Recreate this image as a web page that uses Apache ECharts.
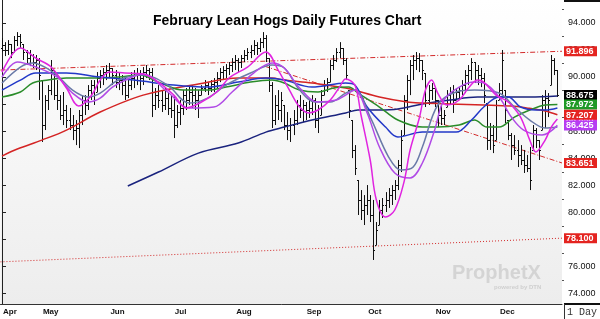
<!DOCTYPE html>
<html><head><meta charset="utf-8">
<script src="https://cdn.jsdelivr.net/npm/echarts@6/dist/echarts.min.js"></script>
<style>html,body{margin:0;padding:0;background:#fff}#c{width:600px;height:319px}</style>
</head><body><div id="c"></div>
<script>
const monthNames = ['Apr','May','Jun','Jul','Aug','Sep','Oct','Nov','Dec'];
const tradingDays = [
 [12,13,14,17,18,19,20,21,24,25,26,27,28],
 [1,2,3,4,5,8,9,10,11,12,15,16,17,18,19,22,23,24,25,26,30,31],
 [1,2,5,6,7,8,9,12,13,14,15,16,20,21,22,23,26,27,28,29,30],
 [3,5,6,7,10,11,12,13,14,17,18,19,20,21,24,25,26,27,28,31],
 [1,2,3,4,7,8,9,10,11,14,15,16,17,18,21,22,23,24,25,28,29,30,31],
 [1,5,6,7,8,11,12,13,14,15,18,19,20,21,22,25,26,27,28,29],
 [2,3,4,5,6,9,10,11,12,13,16,17,18,19,20,23,24,25,26,27,30,31],
 [1,2,3,6,7,8,9,10,13,14,15,16,17,20,21,22,24,27,28,29,30],
 [1,4,5,6,7,8,11,12,13,14,15,18,19,20,21,22,26,27,28,29]
];
const opens = [92.13,92.35,91.99,92.43,91.84,92.72,93.02,92.43,91.84,91.39,
91.62,91.10,91.25,89.77,86.45,88.30,89.03,90.51,88.66,88.30,
87.19,87.56,86.82,86.45,86.08,86.23,87.19,88.30,87.93,89.03,
89.40,88.89,89.92,90.14,90.36,90.51,90.66,90.14,89.62,89.77,
89.40,88.66,89.40,89.92,90.14,89.77,89.92,90.36,90.51,90.36,
87.93,88.66,88.30,87.93,88.44,87.71,87.56,86.45,87.41,87.71,
88.66,88.30,88.89,88.66,88.30,88.66,89.18,89.40,89.18,89.48,
89.62,89.92,90.36,90.51,90.66,90.88,91.10,91.25,91.10,91.39,
91.62,91.84,91.99,92.35,92.13,92.57,92.87,91.39,89.40,86.82,
87.93,87.56,87.93,86.45,86.08,86.45,86.82,87.93,87.56,87.93,
87.56,87.71,88.30,86.82,87.19,88.66,89.40,89.62,90.88,91.25,
91.84,92.13,91.25,89.03,86.82,84.61,82.39,80.92,80.18,80.55,
80.92,79.81,77.59,79.07,80.18,80.55,80.92,81.28,81.65,82.02,
83.50,85.71,88.30,89.77,90.88,91.25,91.39,91.25,90.29,88.30,
89.03,89.18,88.30,87.19,86.97,87.78,88.66,88.89,88.30,88.89,
89.03,89.40,90.14,90.51,91.10,90.51,90.14,89.92,88.07,85.34,
85.71,85.34,88.30,89.03,89.03,86.82,85.71,84.97,84.61,84.24,
83.87,83.50,83.28,84.61,86.08,85.34,86.08,88.30,88.44,89.40,
91.25,90.51];
const highs = [92.87,92.57,92.72,92.43,93.02,93.31,93.17,92.43,91.99,91.99,
91.69,91.62,91.39,89.77,88.66,89.40,91.25,90.51,89.77,88.66,
88.89,87.93,87.71,87.19,86.82,87.56,88.66,88.66,89.40,89.77,
89.77,90.36,90.51,90.66,90.88,91.03,90.66,90.51,90.36,90.14,
89.92,89.77,90.36,90.51,90.66,90.51,90.73,90.88,90.66,90.66,
89.18,89.40,89.03,89.18,88.89,88.66,88.66,87.93,88.30,89.03,
89.18,89.40,89.40,89.18,89.03,89.40,89.77,89.62,89.77,89.92,
90.36,90.66,90.80,90.95,91.10,91.39,91.62,91.39,91.62,91.99,
92.13,92.35,92.72,92.57,92.87,93.31,93.09,91.39,89.62,88.66,
89.03,88.89,87.93,87.41,86.97,87.56,88.30,88.66,88.30,88.15,
88.30,88.66,88.44,87.93,89.03,89.77,89.92,91.25,91.62,92.13,
92.57,92.13,91.39,89.03,86.82,84.97,82.39,81.65,81.28,82.02,
81.28,80.92,79.29,80.92,81.06,81.50,81.80,82.02,82.39,83.87,
86.08,88.66,90.14,91.25,91.62,91.84,91.76,91.25,90.29,89.40,
89.55,89.18,88.30,87.93,87.56,89.03,89.25,89.40,89.18,89.25,
89.77,90.51,90.88,91.39,91.10,90.88,90.66,90.29,88.07,86.60,
86.45,88.30,89.55,91.99,89.03,86.82,85.86,85.71,85.34,84.97,
84.61,84.24,84.83,86.45,86.23,85.34,88.66,89.03,88.81,91.62,
91.39,90.51];
const lows = [91.84,91.54,91.62,91.39,91.84,92.28,92.13,91.25,90.88,90.80,
90.66,90.51,88.30,85.20,86.08,87.56,88.66,88.30,87.56,86.82,
86.45,86.23,86.08,85.34,84.97,84.75,86.45,87.19,87.56,88.30,
87.93,88.89,89.18,89.40,89.77,89.92,89.40,89.18,89.03,88.66,
88.30,88.44,89.03,89.18,89.40,89.03,89.40,89.92,89.77,87.04,
87.56,87.71,87.41,87.56,87.19,86.97,85.49,86.23,86.45,87.19,
87.56,87.93,87.71,87.56,86.97,88.66,88.89,88.66,88.89,88.89,
89.18,89.62,89.77,89.92,90.14,90.36,90.51,90.36,90.66,91.10,
91.25,91.39,91.62,91.62,91.84,92.13,91.10,88.89,86.23,86.45,
86.82,86.67,86.08,85.34,85.20,85.71,86.45,86.97,86.67,86.82,
86.97,87.19,86.23,85.86,87.19,88.66,88.89,89.62,90.51,91.10,
91.39,90.88,89.77,86.97,84.01,82.76,79.81,79.44,79.07,79.81,
79.29,76.49,77.59,79.07,79.59,80.03,80.33,80.55,80.92,81.65,
82.98,85.71,87.56,88.66,89.77,90.51,90.36,89.77,87.78,87.93,
88.30,87.78,86.30,86.45,86.45,87.78,87.93,87.34,88.30,88.30,
88.66,88.81,89.40,89.77,89.55,89.40,89.25,88.07,84.61,84.61,
84.38,85.34,88.30,88.66,86.60,85.34,83.87,84.24,83.35,83.50,
82.91,82.98,81.65,84.61,84.75,83.87,86.08,86.23,87.04,89.40,
90.14,88.52];
const closes = [92.35,91.99,92.43,91.84,92.72,93.02,92.57,91.84,91.39,91.62,
91.10,91.25,90.14,86.45,88.30,89.03,90.51,88.66,88.30,87.19,
87.56,86.82,86.45,86.08,86.23,87.19,88.30,87.93,89.03,89.40,
88.66,89.92,90.14,90.36,90.51,90.66,90.14,89.62,89.77,89.40,
88.66,89.40,89.92,90.14,89.77,89.92,90.36,90.51,90.36,87.93,
88.66,88.30,87.93,88.44,87.71,87.56,86.45,87.41,87.71,88.66,
88.30,88.89,88.66,88.30,88.66,89.18,89.40,89.18,89.48,89.62,
89.92,90.36,90.51,90.66,90.88,91.10,91.25,91.10,91.39,91.62,
91.84,91.99,92.35,92.13,92.57,92.87,91.39,89.40,86.82,87.93,
87.56,88.30,86.45,86.08,86.45,86.82,87.93,87.56,87.93,87.56,
87.71,88.30,86.82,86.97,88.66,89.40,89.62,90.88,91.25,91.84,
92.13,91.25,90.14,87.56,84.61,83.28,80.92,80.18,80.55,80.92,
79.81,77.22,78.70,80.18,80.55,80.92,81.28,81.65,82.02,83.50,
85.34,88.30,89.77,90.88,91.25,91.39,91.25,90.51,88.30,89.03,
89.18,88.30,87.19,86.97,87.19,88.66,88.89,88.30,88.89,89.03,
89.40,90.14,90.51,91.10,90.51,90.14,89.92,88.66,85.34,85.71,
84.97,87.93,89.03,91.25,87.56,85.71,84.97,84.61,84.24,83.87,
83.50,83.28,82.39,86.08,85.34,84.61,88.30,88.44,88.30,91.25,
90.51,88.675];

// moving averages: [bar index, value]
const maMagenta = [[0,90.36],[6,92.13],[11,91.39],[16,90.73],[21,89.18],[25,87.85],[29,88.59],[32,89.77],[35,90.36],[40,90.29],[46,90.21],[51,89.62],[56,88.66],[60,87.71],[65,88.15],[70,88.89],[74,89.92],[80,90.73],[86,91.84],[90,90.51],[94,88.89],[97,87.78],[100,87.34],[103,87.56],[107,88.30],[110,89.25],[112,89.85],[115,89.40],[117,87.19],[120,83.87],[122,80.92],[125,79.66],[128,80.18],[131,82.24],[133,84.61],[136,86.97],[138,89.03],[140,89.77],[142,88.81],[145,87.93],[149,88.30],[152,89.18],[155,89.77],[157,89.62],[161,88.66],[164,88.30],[166,87.93],[169,87.04],[172,85.34],[174,84.46],[177,85.34],[179,86.30],[181,86.89]];
const maPurple = [[0,89.99],[5,91.10],[11,90.73],[18,89.99],[23,88.81],[28,88.15],[32,88.44],[36,89.25],[41,89.85],[46,90.21],[54,88.89],[61,87.71],[69,87.78],[75,88.89],[82,90.29],[88,91.03],[92,90.66],[97,89.18],[103,88.15],[109,88.30],[112,88.66],[115,89.03],[119,87.34],[123,84.83],[128,82.91],[133,82.54],[137,83.65],[141,86.08],[144,88.30],[149,89.25],[154,89.62],[157,89.55],[162,88.52],[166,87.04],[170,86.08],[176,85.71],[181,86.425]];
const maSlate = [[0,89.55],[6,90.73],[10,91.03],[17,90.29],[23,89.03],[28,88.52],[32,88.81],[38,89.77],[46,90.14],[54,89.40],[61,88.07],[67,88.44],[73,89.40],[81,90.29],[88,90.88],[92,90.66],[97,89.03],[102,88.15],[107,88.15],[112,88.81],[115,89.03],[120,87.04],[126,84.09],[130,83.13],[134,83.35],[137,84.83],[142,87.93],[148,88.89],[154,89.03],[162,88.81],[167,87.78],[172,86.82],[177,86.23],[181,86.30]];
const maBlue = [[0,89.03],[6,89.77],[11,90.29],[21,90.29],[32,89.99],[43,89.77],[56,89.40],[67,89.25],[77,89.62],[86,89.92],[92,89.77],[101,89.25],[112,89.55],[115,89.40],[119,87.78],[125,86.30],[129,85.57],[137,85.93],[148,85.93],[153,86.82],[157,87.78],[162,88.52],[165,88.52],[169,87.78],[174,87.56],[177,87.56],[181,87.71]];
const maGreen = [[0,88.52],[6,88.89],[10,89.55],[15,89.77],[21,89.92],[29,89.92],[38,89.99],[45,90.14],[51,89.62],[59,89.03],[67,89.03],[73,89.25],[81,89.62],[88,89.77],[92,89.55],[97,89.03],[103,88.89],[108,89.18],[113,89.25],[116,88.81],[123,87.78],[129,86.82],[137,86.30],[142,86.30],[149,86.45],[154,86.82],[158,86.30],[162,86.30],[167,87.04],[172,87.56],[177,87.93],[181,87.972]];
const maRed = [[0,84.16],[5,84.68],[13,85.34],[21,86.08],[32,87.41],[46,88.66],[64,89.48],[77,89.92],[88,89.92],[92,89.77],[101,89.55],[112,89.18],[123,88.52],[132,88.15],[137,88.07],[146,88.00],[157,87.93],[166,87.85],[171,87.71],[177,87.48],[181,87.207]];
const maNavy = [[41,81.95],[51,82.98],[64,84.38],[77,85.12],[86,85.93],[92,86.30],[101,86.82],[112,87.34],[116,87.56],[123,87.56],[129,87.63],[137,88.00],[146,88.30],[155,88.52],[164,88.52],[172,88.52],[181,88.59]];

// trend lines [bar index, value]
const trendTop = [[-0.5,90.51],[182.5,91.896]];
const trendDown = [[85.5,90.80],[182.5,83.651]];
const trendBottom = [[-0.5,76.35],[182.5,78.10]];

const yTickValues = [74,76,78,80,82,84,86,88,90,92,94];
const yMinorValues = [75,77,79,81,83,85,87,89,91,93,95];
// price badges on the right axis (first one is drawn underneath)
const badgeValues = [86.85,91.896,88.675,87.972,87.207,86.425,83.651,78.100];
const badgeColors = ['#e028e0','#e42420','#000000','#1f9a26','#e42420','#b63cf2','#e42420','#e42420'];

const cats = [];
const monthStart = new Set();
tradingDays.forEach((days, m) => {
  days.forEach((d, k) => { if (k === 0) monthStart.add(cats.length); cats.push(monthNames[m] + ' ' + d); });
});
cats.push('');
const bars = closes.map((c, i) => [i, opens[i], highs[i], lows[i], c]);

const badgeRich = {};
badgeColors.forEach((col, k) => {
  badgeRich['b' + k] = {backgroundColor: col, color: '#fff', fontSize: 9, fontWeight: 'bold',
    fontFamily: 'Liberation Sans, Arial', padding: [1, 2, 0, 2], width: 29, lineHeight: 9};
});
function badgeFormatter(v) {
  const k = badgeValues.findIndex((b) => Math.abs(b - v) < 1e-6);
  return '{b' + k + '|' + v.toFixed(3) + '}';
}

function renderOHLC(params, api) {
  const i = api.value(0);
  const o = api.coord([i, api.value(1)]);
  const h = api.coord([i, api.value(2)]);
  const l = api.coord([i, api.value(3)]);
  const c = api.coord([i, api.value(4)]);
  const x = Math.round(h[0]) + 0.5;
  const st = {stroke: '#111', lineWidth: 1};
  return {type: 'group', children: [
    {type: 'line', shape: {x1: x, y1: h[1], x2: x, y2: l[1]}, style: st},
    {type: 'line', shape: {x1: x - 1.5, y1: Math.round(o[1]) + 0.5, x2: x, y2: Math.round(o[1]) + 0.5}, style: st},
    {type: 'line', shape: {x1: x, y1: Math.round(c[1]) + 0.5, x2: x + 1.5, y2: Math.round(c[1]) + 0.5}, style: st}
  ]};
}

function maSeries(name, data, color) {
  return {name, type: 'line', xAxisIndex: 2, data, smooth: 0.35, symbol: 'none',
    lineStyle: {color, width: 1.5}, z: 3};
}
function trendSeries(data, type) {
  return {type: 'line', xAxisIndex: 2, data, symbol: 'none', lineStyle: {color: '#d22a2a', width: 1, type}, z: 1};
}

const chart = echarts.init(document.getElementById('c'));
chart.setOption({
  animation: false,
  backgroundColor: '#ffffff',
  title: {text: 'February Lean Hogs Daily Futures Chart', left: 148, top: 9,
    textStyle: {fontFamily: 'Liberation Sans, Arial', fontSize: 14, fontWeight: 'bold', color: '#000'}},
  grid: {left: 0, right: 36, top: 0, bottom: 15, show: true, borderWidth: 0,
    backgroundColor: {type: 'linear', x: 0, y: 0, x2: 0, y2: 1,
      colorStops: [{offset: 0, color: '#ffffff'}, {offset: 1, color: '#ededed'}]}},
  xAxis: [
    {type: 'category', data: cats, boundaryGap: true,
      axisLine: {lineStyle: {color: '#333', width: 1}},
      axisTick: {interval: (i) => monthStart.has(i), length: 14, lineStyle: {color: '#333'}},
      axisLabel: {interval: (i) => monthStart.has(i), formatter: (v) => v.split(' ')[0], align: 'left',
        margin: 4, padding: [0, 0, 0, 1], fontSize: 8, fontWeight: 'bold', color: '#111', fontFamily: 'Liberation Sans, Arial'},
      splitLine: {show: false}},
    {type: 'category', data: cats, boundaryGap: true, position: 'bottom',
      axisLine: {show: false}, axisTick: {interval: 0, length: 2, lineStyle: {color: '#9a9a9a'}},
      axisLabel: {show: false}, splitLine: {show: false}},
    {type: 'value', min: -0.5, max: 182.5, show: false}
  ],
  yAxis: [
    {type: 'value', position: 'right', min: 73.24, max: 95.68, scale: true,
      axisLine: {show: true, lineStyle: {color: '#222'}},
      axisTick: {show: true, customValues: yTickValues, length: 4, lineStyle: {color: '#222'}},
      axisLabel: {customValues: yTickValues, formatter: (v) => v.toFixed(3), margin: 6, fontSize: 9,
        color: '#111', fontFamily: 'Liberation Sans, Arial'},
      splitLine: {show: false}},
    {type: 'value', position: 'right', min: 73.24, max: 95.68, scale: true,
      axisLine: {show: false},
      axisTick: {show: true, customValues: yMinorValues, length: 2, lineStyle: {color: '#555'}},
      axisLabel: {show: false}, splitLine: {show: false}},
    {type: 'value', position: 'right', min: 73.24, max: 95.68, scale: true,
      axisLine: {show: false}, axisTick: {show: false}, splitLine: {show: false},
      axisLabel: {customValues: badgeValues, formatter: badgeFormatter, margin: 2, rich: badgeRich}}
  ],
  graphic: [
    {type: 'text', left: 452, top: 263, z: 0, style: {text: 'ProphetX', font: 'bold 20px "Liberation Sans", Arial', fill: '#d4d4d4'}},
    {type: 'text', left: 494, top: 284, z: 0, style: {text: 'powered by DTN', font: 'bold 6px "Liberation Sans", Arial', fill: '#cfcfcf'}},
    {type: 'text', left: 567, top: 307, style: {text: '1 Day', font: '10px "Liberation Mono", monospace', fill: '#333'}},
    {type: 'line', shape: {x1: 564, y1: 304, x2: 600, y2: 304}, style: {stroke: '#111', lineWidth: 2}},
    {type: 'line', shape: {x1: 564, y1: 1, x2: 600, y2: 1}, style: {stroke: '#111', lineWidth: 2}},
    {type: 'line', shape: {x1: 564.5, y1: 304, x2: 564.5, y2: 319}, style: {stroke: '#333', lineWidth: 1}}
  ],
  series: [
    trendSeries(trendBottom, [1, 2]),
    trendSeries(trendTop, [5, 2, 1, 2]),
    trendSeries(trendDown, [5, 2, 1, 2]),
    {type: 'custom', renderItem: renderOHLC, data: bars, encode: {x: 0, y: [1, 2, 3, 4]}, z: 2},
    maSeries('navy', maNavy, '#1a237e'),
    maSeries('red', maRed, '#d42424'),
    maSeries('green', maGreen, '#2a8c2a'),
    maSeries('blue', maBlue, '#2238c8'),
    maSeries('slate', maSlate, '#6a7aa8'),
    maSeries('purple', maPurple, '#b04ae6'),
    maSeries('magenta', maMagenta, '#e024e0')
  ]
});
</script></body></html>
